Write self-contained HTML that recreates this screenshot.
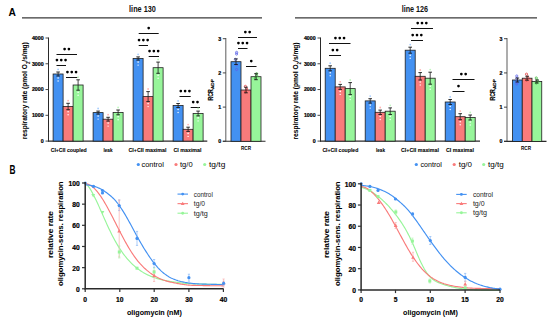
<!DOCTYPE html>
<html><head><meta charset="utf-8"><style>
html,body{margin:0;padding:0;background:#fff;}
svg{display:block;font-family:"Liberation Sans", sans-serif;}
</style></head><body>
<svg width="550" height="322" viewBox="0 0 550 322">
<rect width="550" height="322" fill="#fff"/>
<text x="12.20" y="15.50" font-size="11.8" font-weight="bold" text-anchor="middle" fill="#000"  textLength="7.4" lengthAdjust="spacingAndGlyphs"  >A</text>
<text x="142.50" y="11.60" font-size="8.4" font-weight="bold" text-anchor="middle" fill="#111"  textLength="26.8" lengthAdjust="spacingAndGlyphs"  >line 130</text>
<line x1="22.00" y1="17.90" x2="262.00" y2="17.90" stroke="#3a3a3a" stroke-width="1.4" />
<text x="414.90" y="11.60" font-size="8.4" font-weight="bold" text-anchor="middle" fill="#111"  textLength="26.4" lengthAdjust="spacingAndGlyphs"  >line 126</text>
<line x1="295.00" y1="17.90" x2="537.00" y2="17.90" stroke="#3a3a3a" stroke-width="1.4" />
<line x1="48.50" y1="37.50" x2="48.50" y2="141.60" stroke="#2a2a2a" stroke-width="1.0" />
<line x1="48.00" y1="141.10" x2="207.30" y2="141.10" stroke="#2a2a2a" stroke-width="1.1" />
<line x1="45.50" y1="141.10" x2="48.50" y2="141.10" stroke="#333" stroke-width="0.9" />
<text x="43.70" y="143.00" font-size="5.4" font-weight="bold" text-anchor="end" fill="#000" stroke="#000" stroke-width="0.2" textLength="2.95" lengthAdjust="spacingAndGlyphs"  >0</text>
<line x1="45.50" y1="115.32" x2="48.50" y2="115.32" stroke="#333" stroke-width="0.9" />
<text x="43.70" y="117.22" font-size="5.4" font-weight="bold" text-anchor="end" fill="#000" stroke="#000" stroke-width="0.2" textLength="11.8" lengthAdjust="spacingAndGlyphs"  >1000</text>
<line x1="45.50" y1="89.55" x2="48.50" y2="89.55" stroke="#333" stroke-width="0.9" />
<text x="43.70" y="91.45" font-size="5.4" font-weight="bold" text-anchor="end" fill="#000" stroke="#000" stroke-width="0.2" textLength="11.8" lengthAdjust="spacingAndGlyphs"  >2000</text>
<line x1="45.50" y1="63.77" x2="48.50" y2="63.77" stroke="#333" stroke-width="0.9" />
<text x="43.70" y="65.67" font-size="5.4" font-weight="bold" text-anchor="end" fill="#000" stroke="#000" stroke-width="0.2" textLength="11.8" lengthAdjust="spacingAndGlyphs"  >3000</text>
<line x1="45.50" y1="38.00" x2="48.50" y2="38.00" stroke="#333" stroke-width="0.9" />
<text x="43.70" y="39.90" font-size="5.4" font-weight="bold" text-anchor="end" fill="#000" stroke="#000" stroke-width="0.2" textLength="11.8" lengthAdjust="spacingAndGlyphs"  >4000</text>
<rect x="53.10" y="74.00" width="10.00" height="67.10" fill="#4391f2" stroke="#1e1e1e" stroke-width="0.8"/>
<rect x="63.10" y="106.50" width="10.00" height="34.60" fill="#f97b7b" stroke="#1e1e1e" stroke-width="0.8"/>
<rect x="73.10" y="85.00" width="10.00" height="56.10" fill="#97f59a" stroke="#1e1e1e" stroke-width="0.8"/>
<rect x="93.10" y="112.60" width="10.00" height="28.50" fill="#4391f2" stroke="#1e1e1e" stroke-width="0.8"/>
<rect x="103.10" y="119.20" width="10.00" height="21.90" fill="#f97b7b" stroke="#1e1e1e" stroke-width="0.8"/>
<rect x="113.10" y="112.40" width="10.00" height="28.70" fill="#97f59a" stroke="#1e1e1e" stroke-width="0.8"/>
<rect x="133.10" y="58.50" width="10.00" height="82.60" fill="#4391f2" stroke="#1e1e1e" stroke-width="0.8"/>
<rect x="143.10" y="96.60" width="10.00" height="44.50" fill="#f97b7b" stroke="#1e1e1e" stroke-width="0.8"/>
<rect x="153.10" y="67.70" width="10.00" height="73.40" fill="#97f59a" stroke="#1e1e1e" stroke-width="0.8"/>
<rect x="173.10" y="105.50" width="10.00" height="35.60" fill="#4391f2" stroke="#1e1e1e" stroke-width="0.8"/>
<rect x="183.10" y="129.30" width="10.00" height="11.80" fill="#f97b7b" stroke="#1e1e1e" stroke-width="0.8"/>
<rect x="193.10" y="113.50" width="10.00" height="27.60" fill="#97f59a" stroke="#1e1e1e" stroke-width="0.8"/>
<line x1="56.50" y1="54.50" x2="77.00" y2="54.50" stroke="#111" stroke-width="1.0" />
<circle cx="64.60" cy="49.10" r="1.35" fill="#000" />
<circle cx="68.90" cy="49.10" r="1.35" fill="#000" />
<line x1="56.50" y1="65.50" x2="66.00" y2="65.50" stroke="#111" stroke-width="1.0" />
<circle cx="56.95" cy="60.10" r="1.35" fill="#000" />
<circle cx="61.25" cy="60.10" r="1.35" fill="#000" />
<circle cx="65.55" cy="60.10" r="1.35" fill="#000" />
<line x1="66.00" y1="77.50" x2="77.50" y2="77.50" stroke="#111" stroke-width="1.0" />
<circle cx="67.45" cy="72.10" r="1.35" fill="#000" />
<circle cx="71.75" cy="72.10" r="1.35" fill="#000" />
<circle cx="76.05" cy="72.10" r="1.35" fill="#000" />
<line x1="138.70" y1="33.50" x2="158.70" y2="33.50" stroke="#111" stroke-width="1.0" />
<circle cx="148.70" cy="28.10" r="1.35" fill="#000" />
<line x1="138.70" y1="45.50" x2="148.00" y2="45.50" stroke="#111" stroke-width="1.0" />
<circle cx="139.05" cy="40.10" r="1.35" fill="#000" />
<circle cx="143.35" cy="40.10" r="1.35" fill="#000" />
<circle cx="147.65" cy="40.10" r="1.35" fill="#000" />
<line x1="148.70" y1="56.50" x2="159.00" y2="56.50" stroke="#111" stroke-width="1.0" />
<circle cx="149.55" cy="51.10" r="1.35" fill="#000" />
<circle cx="153.85" cy="51.10" r="1.35" fill="#000" />
<circle cx="158.15" cy="51.10" r="1.35" fill="#000" />
<line x1="179.50" y1="96.50" x2="190.70" y2="96.50" stroke="#111" stroke-width="1.0" />
<circle cx="180.80" cy="91.10" r="1.35" fill="#000" />
<circle cx="185.10" cy="91.10" r="1.35" fill="#000" />
<circle cx="189.40" cy="91.10" r="1.35" fill="#000" />
<line x1="190.70" y1="107.50" x2="200.00" y2="107.50" stroke="#111" stroke-width="1.0" />
<circle cx="193.20" cy="102.10" r="1.35" fill="#000" />
<circle cx="197.50" cy="102.10" r="1.35" fill="#000" />
<text x="68.70" y="152.30" font-size="5.6" font-weight="bold" text-anchor="middle" fill="#000" stroke="#000" stroke-width="0.08" textLength="36" lengthAdjust="spacingAndGlyphs"  >CI+CII coupled</text>
<text x="108.00" y="152.30" font-size="5.6" font-weight="bold" text-anchor="middle" fill="#000" stroke="#000" stroke-width="0.08" textLength="9" lengthAdjust="spacingAndGlyphs"  >leak</text>
<text x="147.50" y="152.30" font-size="5.6" font-weight="bold" text-anchor="middle" fill="#000" stroke="#000" stroke-width="0.08" textLength="38" lengthAdjust="spacingAndGlyphs"  >CI+CII maximal</text>
<text x="187.50" y="152.30" font-size="5.6" font-weight="bold" text-anchor="middle" fill="#000" stroke="#000" stroke-width="0.08" textLength="28" lengthAdjust="spacingAndGlyphs"  >CI maximal</text>
<line x1="320.50" y1="37.50" x2="320.50" y2="141.60" stroke="#2a2a2a" stroke-width="1.0" />
<line x1="320.00" y1="141.10" x2="480.00" y2="141.10" stroke="#2a2a2a" stroke-width="1.1" />
<line x1="317.50" y1="141.10" x2="320.50" y2="141.10" stroke="#333" stroke-width="0.9" />
<text x="315.70" y="143.00" font-size="5.4" font-weight="bold" text-anchor="end" fill="#000" stroke="#000" stroke-width="0.2" textLength="2.95" lengthAdjust="spacingAndGlyphs"  >0</text>
<line x1="317.50" y1="115.32" x2="320.50" y2="115.32" stroke="#333" stroke-width="0.9" />
<text x="315.70" y="117.22" font-size="5.4" font-weight="bold" text-anchor="end" fill="#000" stroke="#000" stroke-width="0.2" textLength="11.8" lengthAdjust="spacingAndGlyphs"  >1000</text>
<line x1="317.50" y1="89.55" x2="320.50" y2="89.55" stroke="#333" stroke-width="0.9" />
<text x="315.70" y="91.45" font-size="5.4" font-weight="bold" text-anchor="end" fill="#000" stroke="#000" stroke-width="0.2" textLength="11.8" lengthAdjust="spacingAndGlyphs"  >2000</text>
<line x1="317.50" y1="63.77" x2="320.50" y2="63.77" stroke="#333" stroke-width="0.9" />
<text x="315.70" y="65.67" font-size="5.4" font-weight="bold" text-anchor="end" fill="#000" stroke="#000" stroke-width="0.2" textLength="11.8" lengthAdjust="spacingAndGlyphs"  >3000</text>
<line x1="317.50" y1="38.00" x2="320.50" y2="38.00" stroke="#333" stroke-width="0.9" />
<text x="315.70" y="39.90" font-size="5.4" font-weight="bold" text-anchor="end" fill="#000" stroke="#000" stroke-width="0.2" textLength="11.8" lengthAdjust="spacingAndGlyphs"  >4000</text>
<rect x="325.20" y="68.30" width="10.00" height="72.80" fill="#4391f2" stroke="#1e1e1e" stroke-width="0.8"/>
<rect x="335.20" y="86.90" width="10.00" height="54.20" fill="#f97b7b" stroke="#1e1e1e" stroke-width="0.8"/>
<rect x="345.20" y="88.60" width="10.00" height="52.50" fill="#97f59a" stroke="#1e1e1e" stroke-width="0.8"/>
<rect x="365.20" y="100.90" width="10.00" height="40.20" fill="#4391f2" stroke="#1e1e1e" stroke-width="0.8"/>
<rect x="375.20" y="112.30" width="10.00" height="28.80" fill="#f97b7b" stroke="#1e1e1e" stroke-width="0.8"/>
<rect x="385.20" y="111.20" width="10.00" height="29.90" fill="#97f59a" stroke="#1e1e1e" stroke-width="0.8"/>
<rect x="405.20" y="50.20" width="10.00" height="90.90" fill="#4391f2" stroke="#1e1e1e" stroke-width="0.8"/>
<rect x="415.20" y="76.30" width="10.00" height="64.80" fill="#f97b7b" stroke="#1e1e1e" stroke-width="0.8"/>
<rect x="425.20" y="78.20" width="10.00" height="62.90" fill="#97f59a" stroke="#1e1e1e" stroke-width="0.8"/>
<rect x="445.20" y="102.00" width="10.00" height="39.10" fill="#4391f2" stroke="#1e1e1e" stroke-width="0.8"/>
<rect x="455.20" y="116.70" width="10.00" height="24.40" fill="#f97b7b" stroke="#1e1e1e" stroke-width="0.8"/>
<rect x="465.20" y="117.50" width="10.00" height="23.60" fill="#97f59a" stroke="#1e1e1e" stroke-width="0.8"/>
<line x1="329.00" y1="43.50" x2="350.50" y2="43.50" stroke="#111" stroke-width="1.0" />
<circle cx="335.45" cy="38.10" r="1.35" fill="#000" />
<circle cx="339.75" cy="38.10" r="1.35" fill="#000" />
<circle cx="344.05" cy="38.10" r="1.35" fill="#000" />
<line x1="329.00" y1="55.50" x2="341.00" y2="55.50" stroke="#111" stroke-width="1.0" />
<circle cx="332.85" cy="50.10" r="1.35" fill="#000" />
<circle cx="337.15" cy="50.10" r="1.35" fill="#000" />
<line x1="411.00" y1="28.50" x2="433.00" y2="28.50" stroke="#111" stroke-width="1.0" />
<circle cx="417.70" cy="23.10" r="1.35" fill="#000" />
<circle cx="422.00" cy="23.10" r="1.35" fill="#000" />
<circle cx="426.30" cy="23.10" r="1.35" fill="#000" />
<line x1="411.00" y1="40.50" x2="423.00" y2="40.50" stroke="#111" stroke-width="1.0" />
<circle cx="412.70" cy="35.10" r="1.35" fill="#000" />
<circle cx="417.00" cy="35.10" r="1.35" fill="#000" />
<circle cx="421.30" cy="35.10" r="1.35" fill="#000" />
<line x1="452.50" y1="79.50" x2="474.50" y2="79.50" stroke="#111" stroke-width="1.0" />
<circle cx="461.35" cy="74.10" r="1.35" fill="#000" />
<circle cx="465.65" cy="74.10" r="1.35" fill="#000" />
<line x1="452.50" y1="91.50" x2="464.50" y2="91.50" stroke="#111" stroke-width="1.0" />
<circle cx="458.50" cy="86.10" r="1.35" fill="#000" />
<text x="340.40" y="152.30" font-size="5.6" font-weight="bold" text-anchor="middle" fill="#000" stroke="#000" stroke-width="0.08" textLength="36" lengthAdjust="spacingAndGlyphs"  >CI+CII coupled</text>
<text x="380.50" y="152.30" font-size="5.6" font-weight="bold" text-anchor="middle" fill="#000" stroke="#000" stroke-width="0.08" textLength="9" lengthAdjust="spacingAndGlyphs"  >leak</text>
<text x="420.00" y="152.30" font-size="5.6" font-weight="bold" text-anchor="middle" fill="#000" stroke="#000" stroke-width="0.08" textLength="38" lengthAdjust="spacingAndGlyphs"  >CI+CII maximal</text>
<text x="460.00" y="152.30" font-size="5.6" font-weight="bold" text-anchor="middle" fill="#000" stroke="#000" stroke-width="0.08" textLength="28" lengthAdjust="spacingAndGlyphs"  >CI maximal</text>
<circle cx="58.10" cy="69.40" r="0.9" fill="#a6cdfd" />
<circle cx="58.10" cy="78.00" r="0.8" fill="#ffffff" />
<circle cx="58.10" cy="81.00" r="0.7" fill="#ffffff" />
<line x1="58.10" y1="72.00" x2="58.10" y2="76.00" stroke="#1a1a1a" stroke-width="0.8" />
<line x1="56.30" y1="72.00" x2="59.90" y2="72.00" stroke="#1a1a1a" stroke-width="0.9" />
<line x1="56.30" y1="76.00" x2="59.90" y2="76.00" stroke="#1a1a1a" stroke-width="0.9" />
<circle cx="68.10" cy="100.70" r="0.9" fill="#ffb3b3" />
<circle cx="68.10" cy="111.70" r="0.8" fill="#ffffff" />
<circle cx="68.10" cy="114.70" r="0.7" fill="#ffffff" />
<line x1="68.10" y1="103.30" x2="68.10" y2="109.70" stroke="#1a1a1a" stroke-width="0.8" />
<line x1="66.30" y1="103.30" x2="69.90" y2="103.30" stroke="#1a1a1a" stroke-width="0.9" />
<line x1="66.30" y1="109.70" x2="69.90" y2="109.70" stroke="#1a1a1a" stroke-width="0.9" />
<circle cx="78.10" cy="77.20" r="0.9" fill="#bdf7bd" />
<circle cx="78.10" cy="92.20" r="0.8" fill="#ffffff" />
<circle cx="78.10" cy="95.20" r="0.7" fill="#ffffff" />
<line x1="78.10" y1="79.80" x2="78.10" y2="90.20" stroke="#1a1a1a" stroke-width="0.8" />
<line x1="76.30" y1="79.80" x2="79.90" y2="79.80" stroke="#1a1a1a" stroke-width="0.9" />
<line x1="76.30" y1="90.20" x2="79.90" y2="90.20" stroke="#1a1a1a" stroke-width="0.9" />
<circle cx="98.10" cy="108.50" r="0.9" fill="#a6cdfd" />
<circle cx="98.10" cy="116.10" r="0.8" fill="#ffffff" />
<circle cx="98.10" cy="119.10" r="0.7" fill="#ffffff" />
<line x1="98.10" y1="111.10" x2="98.10" y2="114.10" stroke="#1a1a1a" stroke-width="0.8" />
<line x1="96.30" y1="111.10" x2="99.90" y2="111.10" stroke="#1a1a1a" stroke-width="0.9" />
<line x1="96.30" y1="114.10" x2="99.90" y2="114.10" stroke="#1a1a1a" stroke-width="0.9" />
<circle cx="108.10" cy="114.70" r="0.9" fill="#ffb3b3" />
<circle cx="108.10" cy="123.10" r="0.8" fill="#ffffff" />
<circle cx="108.10" cy="126.10" r="0.7" fill="#ffffff" />
<line x1="108.10" y1="117.30" x2="108.10" y2="121.10" stroke="#1a1a1a" stroke-width="0.8" />
<line x1="106.30" y1="117.30" x2="109.90" y2="117.30" stroke="#1a1a1a" stroke-width="0.9" />
<line x1="106.30" y1="121.10" x2="109.90" y2="121.10" stroke="#1a1a1a" stroke-width="0.9" />
<circle cx="118.10" cy="107.40" r="0.9" fill="#bdf7bd" />
<circle cx="118.10" cy="116.80" r="0.8" fill="#ffffff" />
<circle cx="118.10" cy="119.80" r="0.7" fill="#ffffff" />
<line x1="118.10" y1="110.00" x2="118.10" y2="114.80" stroke="#1a1a1a" stroke-width="0.8" />
<line x1="116.30" y1="110.00" x2="119.90" y2="110.00" stroke="#1a1a1a" stroke-width="0.9" />
<line x1="116.30" y1="114.80" x2="119.90" y2="114.80" stroke="#1a1a1a" stroke-width="0.9" />
<circle cx="138.10" cy="54.30" r="0.9" fill="#a6cdfd" />
<circle cx="138.10" cy="62.10" r="0.8" fill="#ffffff" />
<circle cx="138.10" cy="65.10" r="0.7" fill="#ffffff" />
<line x1="138.10" y1="56.90" x2="138.10" y2="60.10" stroke="#1a1a1a" stroke-width="0.8" />
<line x1="136.30" y1="56.90" x2="139.90" y2="56.90" stroke="#1a1a1a" stroke-width="0.9" />
<line x1="136.30" y1="60.10" x2="139.90" y2="60.10" stroke="#1a1a1a" stroke-width="0.9" />
<circle cx="148.10" cy="89.00" r="0.9" fill="#ffb3b3" />
<circle cx="148.10" cy="103.60" r="0.8" fill="#ffffff" />
<circle cx="148.10" cy="106.60" r="0.7" fill="#ffffff" />
<line x1="148.10" y1="91.60" x2="148.10" y2="101.60" stroke="#1a1a1a" stroke-width="0.8" />
<line x1="146.30" y1="91.60" x2="149.90" y2="91.60" stroke="#1a1a1a" stroke-width="0.9" />
<line x1="146.30" y1="101.60" x2="149.90" y2="101.60" stroke="#1a1a1a" stroke-width="0.9" />
<circle cx="158.10" cy="59.50" r="0.9" fill="#bdf7bd" />
<circle cx="158.10" cy="75.30" r="0.8" fill="#ffffff" />
<circle cx="158.10" cy="78.30" r="0.7" fill="#ffffff" />
<line x1="158.10" y1="62.10" x2="158.10" y2="73.30" stroke="#1a1a1a" stroke-width="0.8" />
<line x1="156.30" y1="62.10" x2="159.90" y2="62.10" stroke="#1a1a1a" stroke-width="0.9" />
<line x1="156.30" y1="73.30" x2="159.90" y2="73.30" stroke="#1a1a1a" stroke-width="0.9" />
<circle cx="178.10" cy="100.90" r="0.9" fill="#a6cdfd" />
<circle cx="178.10" cy="109.50" r="0.8" fill="#ffffff" />
<circle cx="178.10" cy="112.50" r="0.7" fill="#ffffff" />
<line x1="178.10" y1="103.50" x2="178.10" y2="107.50" stroke="#1a1a1a" stroke-width="0.8" />
<line x1="176.30" y1="103.50" x2="179.90" y2="103.50" stroke="#1a1a1a" stroke-width="0.9" />
<line x1="176.30" y1="107.50" x2="179.90" y2="107.50" stroke="#1a1a1a" stroke-width="0.9" />
<circle cx="188.10" cy="124.60" r="0.9" fill="#ffb3b3" />
<circle cx="188.10" cy="133.40" r="0.8" fill="#ffffff" />
<circle cx="188.10" cy="136.40" r="0.7" fill="#ffffff" />
<line x1="188.10" y1="127.20" x2="188.10" y2="131.40" stroke="#1a1a1a" stroke-width="0.8" />
<line x1="186.30" y1="127.20" x2="189.90" y2="127.20" stroke="#1a1a1a" stroke-width="0.9" />
<line x1="186.30" y1="131.40" x2="189.90" y2="131.40" stroke="#1a1a1a" stroke-width="0.9" />
<circle cx="198.10" cy="108.50" r="0.9" fill="#bdf7bd" />
<circle cx="198.10" cy="117.90" r="0.8" fill="#ffffff" />
<circle cx="198.10" cy="120.90" r="0.7" fill="#ffffff" />
<line x1="198.10" y1="111.10" x2="198.10" y2="115.90" stroke="#1a1a1a" stroke-width="0.8" />
<line x1="196.30" y1="111.10" x2="199.90" y2="111.10" stroke="#1a1a1a" stroke-width="0.9" />
<line x1="196.30" y1="115.90" x2="199.90" y2="115.90" stroke="#1a1a1a" stroke-width="0.9" />
<circle cx="330.20" cy="63.20" r="0.9" fill="#a6cdfd" />
<circle cx="330.20" cy="72.80" r="0.8" fill="#ffffff" />
<circle cx="330.20" cy="75.80" r="0.7" fill="#ffffff" />
<line x1="330.20" y1="65.80" x2="330.20" y2="70.80" stroke="#1a1a1a" stroke-width="0.8" />
<line x1="328.40" y1="65.80" x2="332.00" y2="65.80" stroke="#1a1a1a" stroke-width="0.9" />
<line x1="328.40" y1="70.80" x2="332.00" y2="70.80" stroke="#1a1a1a" stroke-width="0.9" />
<circle cx="340.20" cy="81.80" r="0.9" fill="#ffb3b3" />
<circle cx="340.20" cy="91.40" r="0.8" fill="#ffffff" />
<circle cx="340.20" cy="94.40" r="0.7" fill="#ffffff" />
<line x1="340.20" y1="84.40" x2="340.20" y2="89.40" stroke="#1a1a1a" stroke-width="0.8" />
<line x1="338.40" y1="84.40" x2="342.00" y2="84.40" stroke="#1a1a1a" stroke-width="0.9" />
<line x1="338.40" y1="89.40" x2="342.00" y2="89.40" stroke="#1a1a1a" stroke-width="0.9" />
<circle cx="350.20" cy="80.00" r="0.9" fill="#bdf7bd" />
<circle cx="350.20" cy="96.60" r="0.8" fill="#ffffff" />
<circle cx="350.20" cy="99.60" r="0.7" fill="#ffffff" />
<line x1="350.20" y1="82.60" x2="350.20" y2="94.60" stroke="#1a1a1a" stroke-width="0.8" />
<line x1="348.40" y1="82.60" x2="352.00" y2="82.60" stroke="#1a1a1a" stroke-width="0.9" />
<line x1="348.40" y1="94.60" x2="352.00" y2="94.60" stroke="#1a1a1a" stroke-width="0.9" />
<circle cx="370.20" cy="96.10" r="0.9" fill="#a6cdfd" />
<circle cx="370.20" cy="105.10" r="0.8" fill="#ffffff" />
<circle cx="370.20" cy="108.10" r="0.7" fill="#ffffff" />
<line x1="370.20" y1="98.70" x2="370.20" y2="103.10" stroke="#1a1a1a" stroke-width="0.8" />
<line x1="368.40" y1="98.70" x2="372.00" y2="98.70" stroke="#1a1a1a" stroke-width="0.9" />
<line x1="368.40" y1="103.10" x2="372.00" y2="103.10" stroke="#1a1a1a" stroke-width="0.9" />
<circle cx="380.20" cy="107.50" r="0.9" fill="#ffb3b3" />
<circle cx="380.20" cy="116.50" r="0.8" fill="#ffffff" />
<circle cx="380.20" cy="119.50" r="0.7" fill="#ffffff" />
<line x1="380.20" y1="110.10" x2="380.20" y2="114.50" stroke="#1a1a1a" stroke-width="0.8" />
<line x1="378.40" y1="110.10" x2="382.00" y2="110.10" stroke="#1a1a1a" stroke-width="0.9" />
<line x1="378.40" y1="114.50" x2="382.00" y2="114.50" stroke="#1a1a1a" stroke-width="0.9" />
<circle cx="390.20" cy="105.30" r="0.9" fill="#bdf7bd" />
<circle cx="390.20" cy="116.50" r="0.8" fill="#ffffff" />
<circle cx="390.20" cy="119.50" r="0.7" fill="#ffffff" />
<line x1="390.20" y1="107.90" x2="390.20" y2="114.50" stroke="#1a1a1a" stroke-width="0.8" />
<line x1="388.40" y1="107.90" x2="392.00" y2="107.90" stroke="#1a1a1a" stroke-width="0.9" />
<line x1="388.40" y1="114.50" x2="392.00" y2="114.50" stroke="#1a1a1a" stroke-width="0.9" />
<circle cx="410.20" cy="44.60" r="0.9" fill="#a6cdfd" />
<circle cx="410.20" cy="55.20" r="0.8" fill="#ffffff" />
<circle cx="410.20" cy="58.20" r="0.7" fill="#ffffff" />
<line x1="410.20" y1="47.20" x2="410.20" y2="53.20" stroke="#1a1a1a" stroke-width="0.8" />
<line x1="408.40" y1="47.20" x2="412.00" y2="47.20" stroke="#1a1a1a" stroke-width="0.9" />
<line x1="408.40" y1="53.20" x2="412.00" y2="53.20" stroke="#1a1a1a" stroke-width="0.9" />
<circle cx="420.20" cy="70.00" r="0.9" fill="#ffb3b3" />
<circle cx="420.20" cy="82.00" r="0.8" fill="#ffffff" />
<circle cx="420.20" cy="85.00" r="0.7" fill="#ffffff" />
<line x1="420.20" y1="72.60" x2="420.20" y2="80.00" stroke="#1a1a1a" stroke-width="0.8" />
<line x1="418.40" y1="72.60" x2="422.00" y2="72.60" stroke="#1a1a1a" stroke-width="0.9" />
<line x1="418.40" y1="80.00" x2="422.00" y2="80.00" stroke="#1a1a1a" stroke-width="0.9" />
<circle cx="430.20" cy="69.60" r="0.9" fill="#bdf7bd" />
<circle cx="430.20" cy="86.20" r="0.8" fill="#ffffff" />
<circle cx="430.20" cy="89.20" r="0.7" fill="#ffffff" />
<line x1="430.20" y1="72.20" x2="430.20" y2="84.20" stroke="#1a1a1a" stroke-width="0.8" />
<line x1="428.40" y1="72.20" x2="432.00" y2="72.20" stroke="#1a1a1a" stroke-width="0.9" />
<line x1="428.40" y1="84.20" x2="432.00" y2="84.20" stroke="#1a1a1a" stroke-width="0.9" />
<circle cx="450.20" cy="96.90" r="0.9" fill="#a6cdfd" />
<circle cx="450.20" cy="106.50" r="0.8" fill="#ffffff" />
<circle cx="450.20" cy="109.50" r="0.7" fill="#ffffff" />
<line x1="450.20" y1="99.50" x2="450.20" y2="104.50" stroke="#1a1a1a" stroke-width="0.8" />
<line x1="448.40" y1="99.50" x2="452.00" y2="99.50" stroke="#1a1a1a" stroke-width="0.9" />
<line x1="448.40" y1="104.50" x2="452.00" y2="104.50" stroke="#1a1a1a" stroke-width="0.9" />
<circle cx="460.20" cy="111.10" r="0.9" fill="#ffb3b3" />
<circle cx="460.20" cy="121.70" r="0.8" fill="#ffffff" />
<circle cx="460.20" cy="124.70" r="0.7" fill="#ffffff" />
<line x1="460.20" y1="113.70" x2="460.20" y2="119.70" stroke="#1a1a1a" stroke-width="0.8" />
<line x1="458.40" y1="113.70" x2="462.00" y2="113.70" stroke="#1a1a1a" stroke-width="0.9" />
<line x1="458.40" y1="119.70" x2="462.00" y2="119.70" stroke="#1a1a1a" stroke-width="0.9" />
<circle cx="470.20" cy="112.40" r="0.9" fill="#bdf7bd" />
<circle cx="470.20" cy="122.00" r="0.8" fill="#ffffff" />
<circle cx="470.20" cy="125.00" r="0.7" fill="#ffffff" />
<line x1="470.20" y1="115.00" x2="470.20" y2="120.00" stroke="#1a1a1a" stroke-width="0.8" />
<line x1="468.40" y1="115.00" x2="472.00" y2="115.00" stroke="#1a1a1a" stroke-width="0.9" />
<line x1="468.40" y1="120.00" x2="472.00" y2="120.00" stroke="#1a1a1a" stroke-width="0.9" />
<text x="26.60" y="90.70" font-size="6.8" font-weight="bold" text-anchor="middle" fill="#000" stroke="#000" stroke-width="0.05" textLength="97" lengthAdjust="spacingAndGlyphs" transform="rotate(-90 26.60 90.70)" >respiratory rate (pmol O<tspan baseline-shift="sub" font-size="4.6">2</tspan>/s/mg)</text>
<text x="297.60" y="91.00" font-size="6.8" font-weight="bold" text-anchor="middle" fill="#000" stroke="#000" stroke-width="0.05" textLength="97" lengthAdjust="spacingAndGlyphs" transform="rotate(-90 297.60 91.00)" >respiratory rate (pmol O<tspan baseline-shift="sub" font-size="4.6">2</tspan>/s/mg)</text>
<line x1="225.80" y1="38.00" x2="225.80" y2="141.30" stroke="#6a6a6a" stroke-width="1.1" />
<line x1="222.80" y1="141.30" x2="265.50" y2="141.30" stroke="#2a2a2a" stroke-width="1.1" />
<line x1="222.80" y1="141.30" x2="225.80" y2="141.30" stroke="#333" stroke-width="0.9" />
<text x="221.20" y="143.20" font-size="5.4" font-weight="bold" text-anchor="end" fill="#000" stroke="#000" stroke-width="0.2" textLength="2.95" lengthAdjust="spacingAndGlyphs"  >0</text>
<line x1="222.80" y1="107.10" x2="225.80" y2="107.10" stroke="#333" stroke-width="0.9" />
<text x="221.20" y="109.00" font-size="5.4" font-weight="bold" text-anchor="end" fill="#000" stroke="#000" stroke-width="0.2" textLength="2.95" lengthAdjust="spacingAndGlyphs"  >1</text>
<line x1="222.80" y1="72.90" x2="225.80" y2="72.90" stroke="#333" stroke-width="0.9" />
<text x="221.20" y="74.80" font-size="5.4" font-weight="bold" text-anchor="end" fill="#000" stroke="#000" stroke-width="0.2" textLength="2.95" lengthAdjust="spacingAndGlyphs"  >2</text>
<line x1="222.80" y1="38.70" x2="225.80" y2="38.70" stroke="#333" stroke-width="0.9" />
<text x="221.20" y="40.60" font-size="5.4" font-weight="bold" text-anchor="end" fill="#000" stroke="#000" stroke-width="0.2" textLength="2.95" lengthAdjust="spacingAndGlyphs"  >3</text>
<rect x="231.00" y="61.70" width="10.00" height="79.60" fill="#4391f2" stroke="#1e1e1e" stroke-width="0.8"/>
<circle cx="236.60" cy="52.40" r="1.1" fill="none" stroke="#5b62e8" stroke-width="0.8"/>
<circle cx="236.60" cy="54.00" r="1.1" fill="none" stroke="#5b62e8" stroke-width="0.8"/>
<circle cx="235.40" cy="59.40" r="1.1" fill="none" stroke="#5b62e8" stroke-width="0.8"/>
<circle cx="236.60" cy="64.90" r="1.1" fill="none" stroke="#5b62e8" stroke-width="0.8"/>
<circle cx="236.60" cy="69.50" r="1.1" fill="none" stroke="#5b62e8" stroke-width="0.8"/>
<line x1="236.00" y1="58.90" x2="236.00" y2="64.50" stroke="#1a1a1a" stroke-width="0.8" />
<line x1="234.20" y1="58.90" x2="237.80" y2="58.90" stroke="#1a1a1a" stroke-width="0.9" />
<line x1="234.20" y1="64.50" x2="237.80" y2="64.50" stroke="#1a1a1a" stroke-width="0.9" />
<rect x="241.00" y="90.00" width="10.00" height="51.30" fill="#f97b7b" stroke="#1e1e1e" stroke-width="0.8"/>
<circle cx="245.40" cy="86.40" r="1.1" fill="none" stroke="#e23a3a" stroke-width="0.8"/>
<circle cx="246.60" cy="89.00" r="1.1" fill="none" stroke="#e23a3a" stroke-width="0.8"/>
<circle cx="245.40" cy="92.00" r="1.1" fill="none" stroke="#e23a3a" stroke-width="0.8"/>
<line x1="246.00" y1="87.20" x2="246.00" y2="92.80" stroke="#1a1a1a" stroke-width="0.8" />
<line x1="244.20" y1="87.20" x2="247.80" y2="87.20" stroke="#1a1a1a" stroke-width="0.9" />
<line x1="244.20" y1="92.80" x2="247.80" y2="92.80" stroke="#1a1a1a" stroke-width="0.9" />
<rect x="251.00" y="76.70" width="10.00" height="64.60" fill="#97f59a" stroke="#1e1e1e" stroke-width="0.8"/>
<circle cx="256.60" cy="73.70" r="1.1" fill="none" stroke="#3cb83c" stroke-width="0.8"/>
<circle cx="256.60" cy="75.70" r="1.1" fill="none" stroke="#3cb83c" stroke-width="0.8"/>
<circle cx="255.40" cy="78.20" r="1.1" fill="none" stroke="#3cb83c" stroke-width="0.8"/>
<line x1="256.00" y1="73.70" x2="256.00" y2="79.70" stroke="#1a1a1a" stroke-width="0.8" />
<line x1="254.20" y1="73.70" x2="257.80" y2="73.70" stroke="#1a1a1a" stroke-width="0.9" />
<line x1="254.20" y1="79.70" x2="257.80" y2="79.70" stroke="#1a1a1a" stroke-width="0.9" />
<line x1="238.00" y1="37.50" x2="257.00" y2="37.50" stroke="#111" stroke-width="1.0" />
<circle cx="245.35" cy="32.10" r="1.35" fill="#000" />
<circle cx="249.65" cy="32.10" r="1.35" fill="#000" />
<line x1="238.00" y1="48.50" x2="247.50" y2="48.50" stroke="#111" stroke-width="1.0" />
<circle cx="238.45" cy="43.10" r="1.35" fill="#000" />
<circle cx="242.75" cy="43.10" r="1.35" fill="#000" />
<circle cx="247.05" cy="43.10" r="1.35" fill="#000" />
<line x1="246.00" y1="66.50" x2="256.50" y2="66.50" stroke="#111" stroke-width="1.0" />
<circle cx="251.25" cy="61.10" r="1.35" fill="#000" />
<text x="213.30" y="100.60" font-size="6.3" font-weight="bold" text-anchor="start" fill="#000" stroke="#000" stroke-width="0.2" textLength="11.4" lengthAdjust="spacingAndGlyphs" transform="rotate(-90 213.30 100.60)" >RCR</text>
<text x="214.30" y="89.00" font-size="4.4" font-weight="bold" text-anchor="start" fill="#000" stroke="#000" stroke-width="0.15" textLength="9.8" lengthAdjust="spacingAndGlyphs" transform="rotate(-90 214.30 89.00)" >ADP</text>
<text x="246.00" y="150.30" font-size="5.3" font-weight="bold" text-anchor="middle" fill="#000"  textLength="10" lengthAdjust="spacingAndGlyphs"  >RCR</text>
<line x1="507.00" y1="38.00" x2="507.00" y2="141.40" stroke="#6a6a6a" stroke-width="1.1" />
<line x1="504.00" y1="141.40" x2="546.50" y2="141.40" stroke="#2a2a2a" stroke-width="1.1" />
<line x1="504.00" y1="141.40" x2="507.00" y2="141.40" stroke="#333" stroke-width="0.9" />
<text x="502.40" y="143.30" font-size="5.4" font-weight="bold" text-anchor="end" fill="#000" stroke="#000" stroke-width="0.2" textLength="2.95" lengthAdjust="spacingAndGlyphs"  >0</text>
<line x1="504.00" y1="107.17" x2="507.00" y2="107.17" stroke="#333" stroke-width="0.9" />
<text x="502.40" y="109.07" font-size="5.4" font-weight="bold" text-anchor="end" fill="#000" stroke="#000" stroke-width="0.2" textLength="2.95" lengthAdjust="spacingAndGlyphs"  >1</text>
<line x1="504.00" y1="72.93" x2="507.00" y2="72.93" stroke="#333" stroke-width="0.9" />
<text x="502.40" y="74.83" font-size="5.4" font-weight="bold" text-anchor="end" fill="#000" stroke="#000" stroke-width="0.2" textLength="2.95" lengthAdjust="spacingAndGlyphs"  >2</text>
<line x1="504.00" y1="38.70" x2="507.00" y2="38.70" stroke="#333" stroke-width="0.9" />
<text x="502.40" y="40.60" font-size="5.4" font-weight="bold" text-anchor="end" fill="#000" stroke="#000" stroke-width="0.2" textLength="2.95" lengthAdjust="spacingAndGlyphs"  >3</text>
<rect x="512.50" y="80.00" width="9.75" height="61.40" fill="#4391f2" stroke="#1e1e1e" stroke-width="0.8"/>
<circle cx="516.77" cy="76.00" r="1.1" fill="none" stroke="#5b62e8" stroke-width="0.8"/>
<circle cx="516.77" cy="78.50" r="1.1" fill="none" stroke="#5b62e8" stroke-width="0.8"/>
<circle cx="516.77" cy="82.00" r="1.1" fill="none" stroke="#5b62e8" stroke-width="0.8"/>
<circle cx="516.77" cy="84.00" r="1.1" fill="none" stroke="#5b62e8" stroke-width="0.8"/>
<line x1="517.38" y1="78.00" x2="517.38" y2="82.00" stroke="#1a1a1a" stroke-width="0.8" />
<line x1="515.58" y1="78.00" x2="519.17" y2="78.00" stroke="#1a1a1a" stroke-width="0.9" />
<line x1="515.58" y1="82.00" x2="519.17" y2="82.00" stroke="#1a1a1a" stroke-width="0.9" />
<rect x="522.25" y="78.20" width="9.75" height="63.20" fill="#f97b7b" stroke="#1e1e1e" stroke-width="0.8"/>
<circle cx="526.52" cy="74.20" r="1.1" fill="none" stroke="#e23a3a" stroke-width="0.8"/>
<circle cx="527.73" cy="77.20" r="1.1" fill="none" stroke="#e23a3a" stroke-width="0.8"/>
<circle cx="526.52" cy="80.20" r="1.1" fill="none" stroke="#e23a3a" stroke-width="0.8"/>
<line x1="527.12" y1="76.20" x2="527.12" y2="80.20" stroke="#1a1a1a" stroke-width="0.8" />
<line x1="525.33" y1="76.20" x2="528.92" y2="76.20" stroke="#1a1a1a" stroke-width="0.9" />
<line x1="525.33" y1="80.20" x2="528.92" y2="80.20" stroke="#1a1a1a" stroke-width="0.9" />
<rect x="532.00" y="81.50" width="9.75" height="59.90" fill="#97f59a" stroke="#1e1e1e" stroke-width="0.8"/>
<circle cx="536.27" cy="78.00" r="1.1" fill="none" stroke="#3cb83c" stroke-width="0.8"/>
<circle cx="537.48" cy="80.50" r="1.1" fill="none" stroke="#3cb83c" stroke-width="0.8"/>
<circle cx="536.27" cy="83.00" r="1.1" fill="none" stroke="#3cb83c" stroke-width="0.8"/>
<line x1="536.88" y1="80.00" x2="536.88" y2="83.00" stroke="#1a1a1a" stroke-width="0.8" />
<line x1="535.08" y1="80.00" x2="538.67" y2="80.00" stroke="#1a1a1a" stroke-width="0.9" />
<line x1="535.08" y1="83.00" x2="538.67" y2="83.00" stroke="#1a1a1a" stroke-width="0.9" />
<text x="494.80" y="100.60" font-size="6.3" font-weight="bold" text-anchor="start" fill="#000" stroke="#000" stroke-width="0.2" textLength="11.4" lengthAdjust="spacingAndGlyphs" transform="rotate(-90 494.80 100.60)" >RCR</text>
<text x="495.80" y="89.00" font-size="4.4" font-weight="bold" text-anchor="start" fill="#000" stroke="#000" stroke-width="0.15" textLength="9.8" lengthAdjust="spacingAndGlyphs" transform="rotate(-90 495.80 89.00)" >ADP</text>
<text x="526.00" y="150.30" font-size="5.3" font-weight="bold" text-anchor="middle" fill="#000"  textLength="10" lengthAdjust="spacingAndGlyphs"  >RCR</text>
<circle cx="138.30" cy="164.50" r="1.6" fill="#4391f2" />
<text x="141.50" y="166.80" font-size="7.0" font-weight="normal" text-anchor="start" fill="#000"  textLength="22.3" lengthAdjust="spacingAndGlyphs"  >control</text>
<circle cx="176.00" cy="164.50" r="1.6" fill="#f97b7b" />
<text x="180.00" y="166.80" font-size="7.0" font-weight="normal" text-anchor="start" fill="#000"  textLength="12.6" lengthAdjust="spacingAndGlyphs"  >tg/0</text>
<circle cx="204.70" cy="164.50" r="1.6" fill="#97f59a" />
<text x="209.00" y="166.80" font-size="7.0" font-weight="normal" text-anchor="start" fill="#000"  textLength="16.3" lengthAdjust="spacingAndGlyphs"  >tg/tg</text>
<circle cx="416.30" cy="164.50" r="1.6" fill="#4391f2" />
<text x="420.50" y="166.80" font-size="7.0" font-weight="normal" text-anchor="start" fill="#000"  textLength="21.3" lengthAdjust="spacingAndGlyphs"  >control</text>
<circle cx="454.20" cy="164.50" r="1.6" fill="#f97b7b" />
<text x="458.70" y="166.80" font-size="7.0" font-weight="normal" text-anchor="start" fill="#000"  textLength="13.3" lengthAdjust="spacingAndGlyphs"  >tg/0</text>
<circle cx="483.70" cy="164.50" r="1.6" fill="#97f59a" />
<text x="488.00" y="166.80" font-size="7.0" font-weight="normal" text-anchor="start" fill="#000"  textLength="15.7" lengthAdjust="spacingAndGlyphs"  >tg/tg</text>
<text x="12.60" y="174.40" font-size="12.4" font-weight="bold" text-anchor="middle" fill="#000"  textLength="6.0" lengthAdjust="spacingAndGlyphs"  >B</text>
<polyline points="85.00,183.50 85.93,183.88 86.86,184.63 87.79,185.62 88.72,186.80 89.65,188.14 90.58,189.62 91.51,191.21 92.44,192.89 93.37,194.66 94.30,196.50 95.23,198.39 96.16,200.34 97.09,202.32 98.02,204.34 98.95,206.38 99.88,208.45 100.81,210.54 101.74,212.64 102.67,214.75 103.60,216.86 104.53,218.96 105.46,221.05 106.39,223.12 107.32,225.17 108.26,227.19 109.19,229.17 110.12,231.12 111.05,233.03 111.98,234.90 112.91,236.72 113.84,238.49 114.77,240.22 115.70,241.90 116.63,243.53 117.56,245.11 118.49,246.64 119.42,248.13 120.35,249.56 121.28,250.94 122.21,252.28 123.14,253.57 124.07,254.81 125.00,256.01 125.93,257.17 126.86,258.28 127.79,259.36 128.72,260.40 129.65,261.40 130.58,262.37 131.51,263.30 132.44,264.21 133.37,265.07 134.30,265.91 135.23,266.72 136.16,267.49 137.09,268.24 138.02,268.96 138.95,269.65 139.88,270.31 140.81,270.94 141.74,271.55 142.67,272.13 143.60,272.69 144.53,273.22 145.46,273.73 146.39,274.22 147.32,274.69 148.25,275.14 149.18,275.56 150.11,275.97 151.04,276.36 151.97,276.73 152.90,277.09 153.83,277.42 154.77,277.75 155.70,278.06 156.63,278.35 157.56,278.63 158.49,278.90 159.42,279.16 160.35,279.40 161.28,279.64 162.21,279.86 163.14,280.07 164.07,280.27 165.00,280.47 165.93,280.65 166.86,280.83 167.79,281.00 168.72,281.16 169.65,281.31 170.58,281.46 171.51,281.60 172.44,281.74 173.37,281.87 174.30,282.00 175.23,282.13 176.16,282.25 177.09,282.38 178.02,282.50 178.95,282.62 179.88,282.74 180.81,282.85 181.74,282.96 182.67,283.06 183.60,283.16 184.53,283.25 185.46,283.34 186.39,283.42 187.32,283.49 188.25,283.56 189.18,283.62 190.11,283.68 191.04,283.73 191.97,283.77 192.90,283.81 193.83,283.85 194.76,283.88 195.69,283.91 196.62,283.93 197.55,283.96 198.48,283.98 199.41,284.00 200.34,284.03 201.28,284.05 202.21,284.07 203.14,284.10 204.07,284.12 205.00,284.14 205.93,284.16 206.86,284.19 207.79,284.21 208.72,284.23 209.65,284.25 210.58,284.27 211.51,284.28 212.44,284.30 213.37,284.32 214.30,284.33 215.23,284.35 216.16,284.36 217.09,284.37 218.02,284.38 218.95,284.39 219.88,284.40 220.81,284.41 221.74,284.43 222.67,284.44 223.60,284.45" fill="none" stroke="#97f59a" stroke-width="1.15"/>
<polyline points="85.00,183.67 85.93,183.74 86.86,183.91 87.79,184.16 88.72,184.51 89.65,184.94 90.58,185.47 91.51,186.08 92.44,186.78 93.37,187.57 94.30,188.43 95.23,189.37 96.16,190.38 97.09,191.46 98.02,192.61 98.95,193.83 99.88,195.11 100.81,196.44 101.74,197.84 102.67,199.29 103.60,200.79 104.53,202.34 105.46,203.93 106.39,205.57 107.32,207.24 108.26,208.95 109.19,210.68 110.12,212.44 111.05,214.23 111.98,216.03 112.91,217.84 113.84,219.67 114.77,221.50 115.70,223.34 116.63,225.18 117.56,227.01 118.49,228.83 119.42,230.65 120.35,232.45 121.28,234.24 122.21,236.01 123.14,237.76 124.07,239.48 125.00,241.18 125.93,242.86 126.86,244.50 127.79,246.11 128.72,247.69 129.65,249.24 130.58,250.75 131.51,252.21 132.44,253.64 133.37,255.03 134.30,256.36 135.23,257.66 136.16,258.91 137.09,260.11 138.02,261.27 138.95,262.38 139.88,263.45 140.81,264.47 141.74,265.46 142.67,266.41 143.60,267.32 144.53,268.21 145.46,269.05 146.39,269.87 147.32,270.66 148.25,271.41 149.18,272.14 150.11,272.85 151.04,273.52 151.97,274.17 152.90,274.79 153.83,275.38 154.77,275.95 155.70,276.49 156.63,277.01 157.56,277.50 158.49,277.96 159.42,278.40 160.35,278.82 161.28,279.21 162.21,279.58 163.14,279.93 164.07,280.25 165.00,280.56 165.93,280.85 166.86,281.13 167.79,281.38 168.72,281.63 169.65,281.86 170.58,282.08 171.51,282.28 172.44,282.48 173.37,282.67 174.30,282.85 175.23,283.03 176.16,283.21 177.09,283.39 178.02,283.56 178.95,283.74 179.88,283.92 180.81,284.08 181.74,284.24 182.67,284.39 183.60,284.53 184.53,284.66 185.46,284.78 186.39,284.88 187.32,284.97 188.25,285.06 189.18,285.13 190.11,285.20 191.04,285.26 191.97,285.31 192.90,285.35 193.83,285.38 194.76,285.41 195.69,285.43 196.62,285.45 197.55,285.47 198.48,285.49 199.41,285.51 200.34,285.52 201.28,285.54 202.21,285.55 203.14,285.57 204.07,285.59 205.00,285.60 205.93,285.62 206.86,285.64 207.79,285.65 208.72,285.67 209.65,285.68 210.58,285.70 211.51,285.71 212.44,285.72 213.37,285.73 214.30,285.74 215.23,285.75 216.16,285.76 217.09,285.77 218.02,285.78 218.95,285.79 219.88,285.79 220.81,285.80 221.74,285.81 222.67,285.81 223.60,285.82" fill="none" stroke="#f97b7b" stroke-width="1.15"/>
<polyline points="85.00,184.77 85.93,184.84 86.86,184.92 87.79,185.02 88.72,185.13 89.65,185.27 90.58,185.43 91.51,185.61 92.44,185.82 93.37,186.06 94.30,186.33 95.23,186.63 96.16,186.95 97.09,187.31 98.02,187.70 98.95,188.12 99.88,188.57 100.81,189.05 101.74,189.57 102.67,190.12 103.60,190.69 104.53,191.30 105.46,191.93 106.39,192.59 107.32,193.27 108.26,193.98 109.19,194.71 110.12,195.47 111.05,196.26 111.98,197.10 112.91,197.98 113.84,198.92 114.77,199.91 115.70,200.97 116.63,202.08 117.56,203.25 118.49,204.48 119.42,205.76 120.35,207.09 121.28,208.46 122.21,209.88 123.14,211.35 124.07,212.85 125.00,214.40 125.93,215.98 126.86,217.60 127.79,219.24 128.72,220.91 129.65,222.60 130.58,224.31 131.51,226.03 132.44,227.76 133.37,229.49 134.30,231.22 135.23,232.95 136.16,234.67 137.09,236.37 138.02,238.06 138.95,239.73 139.88,241.37 140.81,242.99 141.74,244.58 142.67,246.14 143.60,247.68 144.53,249.18 145.46,250.67 146.39,252.13 147.32,253.56 148.25,254.97 149.18,256.36 150.11,257.71 151.04,259.04 151.97,260.33 152.90,261.59 153.83,262.81 154.77,263.99 155.70,265.13 156.63,266.23 157.56,267.29 158.49,268.30 159.42,269.26 160.35,270.18 161.28,271.06 162.21,271.90 163.14,272.69 164.07,273.45 165.00,274.16 165.93,274.84 166.86,275.48 167.79,276.08 168.72,276.65 169.65,277.18 170.58,277.68 171.51,278.15 172.44,278.59 173.37,279.00 174.30,279.38 175.23,279.74 176.16,280.08 177.09,280.39 178.02,280.69 178.95,280.96 179.88,281.22 180.81,281.46 181.74,281.69 182.67,281.91 183.60,282.11 184.53,282.30 185.46,282.48 186.39,282.64 187.32,282.79 188.25,282.94 189.18,283.06 190.11,283.18 191.04,283.29 191.97,283.39 192.90,283.48 193.83,283.57 194.76,283.65 195.69,283.73 196.62,283.80 197.55,283.86 198.48,283.91 199.41,283.96 200.34,284.00 201.28,284.04 202.21,284.08 203.14,284.11 204.07,284.14 205.00,284.17 205.93,284.19 206.86,284.21 207.79,284.23 208.72,284.25 209.65,284.27 210.58,284.29 211.51,284.32 212.44,284.34 213.37,284.36 214.30,284.38 215.23,284.41 216.16,284.43 217.09,284.46 218.02,284.48 218.95,284.50 219.88,284.52 220.81,284.53 221.74,284.55 222.67,284.55 223.60,284.56" fill="none" stroke="#4391f2" stroke-width="1.15"/>
<line x1="119.20" y1="200.00" x2="119.20" y2="210.60" stroke="#8ab8f5" stroke-width="0.7" />
<line x1="118.10" y1="200.00" x2="120.30" y2="200.00" stroke="#8ab8f5" stroke-width="0.7" />
<line x1="118.10" y1="210.60" x2="120.30" y2="210.60" stroke="#8ab8f5" stroke-width="0.7" />
<line x1="137.00" y1="231.40" x2="137.00" y2="245.40" stroke="#8ab8f5" stroke-width="0.7" />
<line x1="135.90" y1="231.40" x2="138.10" y2="231.40" stroke="#8ab8f5" stroke-width="0.7" />
<line x1="135.90" y1="245.40" x2="138.10" y2="245.40" stroke="#8ab8f5" stroke-width="0.7" />
<line x1="154.10" y1="259.50" x2="154.10" y2="267.50" stroke="#8ab8f5" stroke-width="0.7" />
<line x1="153.00" y1="259.50" x2="155.20" y2="259.50" stroke="#8ab8f5" stroke-width="0.7" />
<line x1="153.00" y1="267.50" x2="155.20" y2="267.50" stroke="#8ab8f5" stroke-width="0.7" />
<line x1="188.90" y1="274.20" x2="188.90" y2="281.20" stroke="#8ab8f5" stroke-width="0.7" />
<line x1="187.80" y1="274.20" x2="190.00" y2="274.20" stroke="#8ab8f5" stroke-width="0.7" />
<line x1="187.80" y1="281.20" x2="190.00" y2="281.20" stroke="#8ab8f5" stroke-width="0.7" />
<line x1="223.60" y1="281.30" x2="223.60" y2="285.30" stroke="#8ab8f5" stroke-width="0.7" />
<line x1="222.50" y1="281.30" x2="224.70" y2="281.30" stroke="#8ab8f5" stroke-width="0.7" />
<line x1="222.50" y1="285.30" x2="224.70" y2="285.30" stroke="#8ab8f5" stroke-width="0.7" />
<line x1="119.20" y1="200.00" x2="119.20" y2="257.00" stroke="#f9b0b0" stroke-width="0.7" />
<line x1="118.10" y1="200.00" x2="120.30" y2="200.00" stroke="#f9b0b0" stroke-width="0.7" />
<line x1="118.10" y1="257.00" x2="120.30" y2="257.00" stroke="#f9b0b0" stroke-width="0.7" />
<line x1="154.10" y1="270.50" x2="154.10" y2="281.50" stroke="#f9b0b0" stroke-width="0.7" />
<line x1="153.00" y1="270.50" x2="155.20" y2="270.50" stroke="#f9b0b0" stroke-width="0.7" />
<line x1="153.00" y1="281.50" x2="155.20" y2="281.50" stroke="#f9b0b0" stroke-width="0.7" />
<line x1="223.60" y1="279.00" x2="223.60" y2="287.00" stroke="#f9b0b0" stroke-width="0.7" />
<line x1="222.50" y1="279.00" x2="224.70" y2="279.00" stroke="#f9b0b0" stroke-width="0.7" />
<line x1="222.50" y1="287.00" x2="224.70" y2="287.00" stroke="#f9b0b0" stroke-width="0.7" />
<line x1="119.30" y1="246.00" x2="119.30" y2="258.00" stroke="#b5f5b5" stroke-width="0.7" />
<line x1="118.20" y1="246.00" x2="120.40" y2="246.00" stroke="#b5f5b5" stroke-width="0.7" />
<line x1="118.20" y1="258.00" x2="120.40" y2="258.00" stroke="#b5f5b5" stroke-width="0.7" />
<line x1="154.10" y1="268.00" x2="154.10" y2="276.00" stroke="#b5f5b5" stroke-width="0.7" />
<line x1="153.00" y1="268.00" x2="155.20" y2="268.00" stroke="#b5f5b5" stroke-width="0.7" />
<line x1="153.00" y1="276.00" x2="155.20" y2="276.00" stroke="#b5f5b5" stroke-width="0.7" />
<polygon points="117.30,232.40 121.10,232.40 119.20,229.10" fill="#f97b7b"/>
<polygon points="152.20,276.90 156.00,276.90 154.10,273.60" fill="#f97b7b"/>
<polygon points="221.70,284.40 225.50,284.40 223.60,281.10" fill="#f97b7b"/>
<polygon points="91.30,194.10 95.10,194.10 93.20,197.40" fill="#97f59a"/>
<polygon points="100.60,211.00 104.40,211.00 102.50,214.30" fill="#97f59a"/>
<rect x="117.80" y="250.50" width="3" height="3" fill="#97f59a"/>
<rect x="135.50" y="266.70" width="3" height="3" fill="#97f59a"/>
<rect x="152.60" y="270.50" width="3" height="3" fill="#97f59a"/>
<circle cx="85.20" cy="183.00" r="1.6" fill="#4391f2" />
<circle cx="93.50" cy="186.40" r="1.6" fill="#4391f2" />
<circle cx="102.50" cy="190.50" r="1.6" fill="#4391f2" />
<circle cx="102.50" cy="193.00" r="1.6" fill="#4391f2" />
<circle cx="119.20" cy="205.60" r="1.6" fill="#4391f2" />
<circle cx="137.00" cy="238.40" r="1.6" fill="#4391f2" />
<circle cx="154.10" cy="263.50" r="1.6" fill="#4391f2" />
<circle cx="188.90" cy="277.70" r="1.6" fill="#4391f2" />
<circle cx="223.60" cy="283.30" r="1.6" fill="#4391f2" />
<line x1="85.20" y1="182.00" x2="85.20" y2="289.50" stroke="#2a2a2a" stroke-width="1.5" />
<line x1="84.50" y1="288.80" x2="223.60" y2="288.80" stroke="#2a2a2a" stroke-width="1.5" />
<line x1="82.00" y1="288.80" x2="85.20" y2="288.80" stroke="#333" stroke-width="1.2" />
<text x="79.70" y="291.90" font-size="6.7" font-weight="bold" text-anchor="end" fill="#000" stroke="#000" stroke-width="0.2" textLength="3.75" lengthAdjust="spacingAndGlyphs"  >0</text>
<line x1="82.00" y1="267.64" x2="85.20" y2="267.64" stroke="#333" stroke-width="1.2" />
<text x="79.70" y="270.74" font-size="6.7" font-weight="bold" text-anchor="end" fill="#000" stroke="#000" stroke-width="0.2" textLength="7.5" lengthAdjust="spacingAndGlyphs"  >20</text>
<line x1="82.00" y1="246.48" x2="85.20" y2="246.48" stroke="#333" stroke-width="1.2" />
<text x="79.70" y="249.58" font-size="6.7" font-weight="bold" text-anchor="end" fill="#000" stroke="#000" stroke-width="0.2" textLength="7.5" lengthAdjust="spacingAndGlyphs"  >40</text>
<line x1="82.00" y1="225.32" x2="85.20" y2="225.32" stroke="#333" stroke-width="1.2" />
<text x="79.70" y="228.42" font-size="6.7" font-weight="bold" text-anchor="end" fill="#000" stroke="#000" stroke-width="0.2" textLength="7.5" lengthAdjust="spacingAndGlyphs"  >60</text>
<line x1="82.00" y1="204.16" x2="85.20" y2="204.16" stroke="#333" stroke-width="1.2" />
<text x="79.70" y="207.26" font-size="6.7" font-weight="bold" text-anchor="end" fill="#000" stroke="#000" stroke-width="0.2" textLength="7.5" lengthAdjust="spacingAndGlyphs"  >80</text>
<line x1="82.00" y1="183.00" x2="85.20" y2="183.00" stroke="#333" stroke-width="1.2" />
<text x="79.70" y="186.10" font-size="6.7" font-weight="bold" text-anchor="end" fill="#000" stroke="#000" stroke-width="0.2" textLength="11.25" lengthAdjust="spacingAndGlyphs"  >100</text>
<line x1="85.20" y1="288.80" x2="85.20" y2="292.00" stroke="#333" stroke-width="1.2" />
<text x="85.20" y="302.20" font-size="6.6" font-weight="bold" text-anchor="middle" fill="#000" stroke="#000" stroke-width="0.2" textLength="3.75" lengthAdjust="spacingAndGlyphs"  >0</text>
<line x1="119.80" y1="288.80" x2="119.80" y2="292.00" stroke="#333" stroke-width="1.2" />
<text x="119.80" y="302.20" font-size="6.6" font-weight="bold" text-anchor="middle" fill="#000" stroke="#000" stroke-width="0.2" textLength="7.5" lengthAdjust="spacingAndGlyphs"  >10</text>
<line x1="154.20" y1="288.80" x2="154.20" y2="292.00" stroke="#333" stroke-width="1.2" />
<text x="154.20" y="302.20" font-size="6.6" font-weight="bold" text-anchor="middle" fill="#000" stroke="#000" stroke-width="0.2" textLength="7.5" lengthAdjust="spacingAndGlyphs"  >20</text>
<line x1="188.90" y1="288.80" x2="188.90" y2="292.00" stroke="#333" stroke-width="1.2" />
<text x="188.90" y="302.20" font-size="6.6" font-weight="bold" text-anchor="middle" fill="#000" stroke="#000" stroke-width="0.2" textLength="7.5" lengthAdjust="spacingAndGlyphs"  >30</text>
<line x1="223.40" y1="288.80" x2="223.40" y2="292.00" stroke="#333" stroke-width="1.2" />
<text x="223.40" y="302.20" font-size="6.6" font-weight="bold" text-anchor="middle" fill="#000" stroke="#000" stroke-width="0.2" textLength="7.5" lengthAdjust="spacingAndGlyphs"  >40</text>
<line x1="177.50" y1="194.10" x2="188.00" y2="194.10" stroke="#4391f2" stroke-width="1.1" />
<circle cx="182.70" cy="194.10" r="1.4400000000000002" fill="#4391f2" />
<text x="193.80" y="196.50" font-size="7.0" font-weight="normal" text-anchor="start" fill="#222"  textLength="19" lengthAdjust="spacingAndGlyphs"  >control</text>
<line x1="177.50" y1="203.65" x2="188.00" y2="203.65" stroke="#f97b7b" stroke-width="1.1" />
<polygon points="180.80,205.05 184.60,205.05 182.70,201.75" fill="#f97b7b"/>
<text x="193.80" y="206.05" font-size="7.0" font-weight="normal" text-anchor="start" fill="#222"  textLength="11.2" lengthAdjust="spacingAndGlyphs"  >tg/0</text>
<line x1="177.50" y1="213.20" x2="188.00" y2="213.20" stroke="#97f59a" stroke-width="1.1" />
<circle cx="182.70" cy="213.20" r="1.4400000000000002" fill="#97f59a" />
<text x="193.80" y="215.60" font-size="7.0" font-weight="normal" text-anchor="start" fill="#222"  textLength="14" lengthAdjust="spacingAndGlyphs"  >tg/tg</text>
<text x="53.00" y="234.50" font-size="7.9" font-weight="bold" text-anchor="middle" fill="#000" stroke="#000" stroke-width="0.05" textLength="47" lengthAdjust="spacingAndGlyphs" transform="rotate(-90 53.00 234.50)" >relative rate</text>
<text x="63.50" y="233.70" font-size="7.9" font-weight="bold" text-anchor="middle" fill="#000" stroke="#000" stroke-width="0.05" textLength="104.5" lengthAdjust="spacingAndGlyphs" transform="rotate(-90 63.50 233.70)" >oligomycin-sens. respiration</text>
<text x="154.40" y="315.40" font-size="7.6" font-weight="bold" text-anchor="middle" fill="#000" stroke="#000" stroke-width="0.05" textLength="54.8" lengthAdjust="spacingAndGlyphs"  >oligomycin (nM)</text>
<polyline points="361.20,187.13 361.90,187.36 362.59,187.59 363.29,187.85 363.99,188.11 364.69,188.39 365.38,188.68 366.08,188.99 366.78,189.30 367.48,189.64 368.17,189.98 368.87,190.34 369.57,190.72 370.27,191.10 370.96,191.50 371.66,191.92 372.36,192.34 373.06,192.79 373.75,193.24 374.45,193.71 375.15,194.19 375.85,194.69 376.54,195.20 377.24,195.72 377.94,196.26 378.64,196.81 379.33,197.37 380.03,197.95 380.73,198.54 381.43,199.15 382.12,199.77 382.82,200.40 383.52,201.05 384.22,201.71 384.91,202.39 385.61,203.08 386.31,203.78 387.01,204.50 387.70,205.23 388.40,205.97 389.10,206.73 389.80,207.50 390.49,208.29 391.19,209.09 391.89,209.90 392.59,210.73 393.28,211.57 393.98,212.43 394.68,213.30 395.38,214.18 396.07,215.08 396.77,216.00 397.47,216.93 398.17,217.88 398.86,218.85 399.56,219.84 400.26,220.85 400.96,221.88 401.65,222.93 402.35,224.01 403.05,225.11 403.75,226.24 404.44,227.40 405.14,228.58 405.84,229.79 406.54,231.03 407.23,232.31 407.93,233.61 408.63,234.95 409.33,236.32 410.02,237.73 410.72,239.17 411.42,240.65 412.12,242.17 412.81,243.72 413.51,245.31 414.21,246.93 414.91,248.57 415.60,250.22 416.30,251.87 417.00,253.52 417.70,255.16 418.39,256.79 419.09,258.38 419.79,259.94 420.49,261.47 421.18,262.94 421.88,264.36 422.58,265.72 423.28,267.02 423.97,268.27 424.67,269.47 425.37,270.61 426.07,271.69 426.76,272.72 427.46,273.69 428.16,274.61 428.86,275.48 429.55,276.29 430.25,277.05 430.95,277.76 431.65,278.41 432.34,279.01 433.04,279.56 433.74,280.06 434.44,280.53 435.13,280.95 435.83,281.34 436.53,281.71 437.23,282.04 437.92,282.36 438.62,282.65 439.32,282.93 440.02,283.21 440.71,283.47 441.41,283.73 442.11,283.98 442.81,284.23 443.50,284.47 444.20,284.70 444.90,284.92 445.60,285.14 446.29,285.35 446.99,285.56 447.69,285.76 448.39,285.96 449.08,286.14 449.78,286.33 450.48,286.50 451.18,286.67 451.87,286.84 452.57,287.00 453.27,287.16 453.97,287.31 454.66,287.45 455.36,287.59 456.06,287.72 456.76,287.85 457.45,287.98 458.15,288.10 458.85,288.21 459.55,288.33 460.24,288.43 460.94,288.54 461.64,288.63 462.34,288.73 463.03,288.82 463.73,288.90 464.43,288.99 465.13,289.07 465.82,289.14 466.52,289.21 467.22,289.28 467.92,289.34 468.61,289.41 469.31,289.46 470.01,289.52 470.71,289.57 471.40,289.62 472.10,289.67 472.80,289.71 473.50,289.75 474.19,289.79 474.89,289.83 475.59,289.86 476.29,289.89 476.98,289.92 477.68,289.95 478.38,289.98 479.08,290.00 479.77,290.02 480.47,290.04 481.17,290.06 481.87,290.08 482.56,290.09 483.26,290.11 483.96,290.12 484.66,290.13 485.35,290.15 486.05,290.16 486.75,290.17 487.45,290.17 488.14,290.18 488.84,290.19 489.54,290.20 490.24,290.20 490.93,290.21 491.63,290.22 492.33,290.22 493.03,290.23 493.72,290.24 494.42,290.24 495.12,290.25 495.82,290.26 496.51,290.27 497.21,290.27 497.91,290.28 498.61,290.29 499.30,290.30 500.00,290.32" fill="none" stroke="#97f59a" stroke-width="1.15"/>
<polyline points="361.10,186.60 362.03,186.68 362.96,186.83 363.90,187.06 364.83,187.37 365.76,187.77 366.69,188.25 367.63,188.81 368.56,189.44 369.49,190.14 370.42,190.88 371.35,191.68 372.29,192.52 373.22,193.41 374.15,194.34 375.08,195.31 376.02,196.33 376.95,197.39 377.88,198.50 378.81,199.65 379.74,200.84 380.68,202.08 381.61,203.35 382.54,204.65 383.47,205.99 384.41,207.36 385.34,208.77 386.27,210.21 387.20,211.68 388.13,213.18 389.07,214.72 390.00,216.29 390.93,217.90 391.86,219.53 392.80,221.19 393.73,222.86 394.66,224.56 395.59,226.27 396.52,227.99 397.46,229.72 398.39,231.44 399.32,233.18 400.25,234.91 401.19,236.63 402.12,238.36 403.05,240.07 403.98,241.78 404.91,243.47 405.85,245.15 406.78,246.79 407.71,248.42 408.64,250.01 409.58,251.56 410.51,253.09 411.44,254.58 412.37,256.03 413.30,257.45 414.24,258.83 415.17,260.18 416.10,261.48 417.03,262.75 417.97,263.98 418.90,265.17 419.83,266.33 420.76,267.44 421.69,268.52 422.63,269.55 423.56,270.55 424.49,271.51 425.42,272.42 426.36,273.30 427.29,274.14 428.22,274.95 429.15,275.71 430.08,276.44 431.02,277.14 431.95,277.79 432.88,278.42 433.81,279.01 434.74,279.57 435.68,280.10 436.61,280.60 437.54,281.08 438.47,281.53 439.41,281.95 440.34,282.35 441.27,282.72 442.20,283.08 443.13,283.41 444.07,283.73 445.00,284.02 445.93,284.30 446.86,284.56 447.80,284.81 448.73,285.04 449.66,285.27 450.59,285.48 451.52,285.67 452.46,285.86 453.39,286.04 454.32,286.20 455.25,286.36 456.19,286.50 457.12,286.64 458.05,286.78 458.98,286.92 459.91,287.05 460.85,287.18 461.78,287.30 462.71,287.42 463.64,287.52 464.58,287.62 465.51,287.72 466.44,287.80 467.37,287.88 468.30,287.95 469.24,288.01 470.17,288.07 471.10,288.12 472.03,288.17 472.97,288.21 473.90,288.25 474.83,288.28 475.76,288.31 476.69,288.34 477.63,288.37 478.56,288.39 479.49,288.41 480.42,288.43 481.36,288.45 482.29,288.46 483.22,288.48 484.15,288.49 485.08,288.50 486.02,288.51 486.95,288.52 487.88,288.52 488.81,288.53 489.75,288.53 490.68,288.54 491.61,288.54 492.54,288.54 493.47,288.54 494.41,288.54 495.34,288.54 496.27,288.55 497.20,288.55 498.14,288.55 499.07,288.55 500.00,288.55" fill="none" stroke="#f97b7b" stroke-width="1.15"/>
<polyline points="361.10,185.41 362.03,185.47 362.96,185.54 363.90,185.62 364.83,185.71 365.76,185.82 366.69,185.95 367.63,186.09 368.56,186.24 369.49,186.41 370.42,186.60 371.35,186.80 372.29,187.02 373.22,187.25 374.15,187.50 375.08,187.77 376.02,188.05 376.95,188.35 377.88,188.66 378.81,189.00 379.74,189.35 380.68,189.71 381.61,190.10 382.54,190.50 383.47,190.92 384.41,191.35 385.34,191.81 386.27,192.28 387.20,192.77 388.13,193.28 389.07,193.83 390.00,194.40 390.93,195.00 391.86,195.63 392.80,196.29 393.73,196.98 394.66,197.69 395.59,198.43 396.52,199.18 397.46,199.96 398.39,200.75 399.32,201.55 400.25,202.36 401.19,203.18 402.12,204.01 403.05,204.86 403.98,205.74 404.91,206.64 405.85,207.59 406.78,208.57 407.71,209.61 408.64,210.68 409.58,211.79 410.51,212.94 411.44,214.12 412.37,215.32 413.30,216.56 414.24,217.81 415.17,219.08 416.10,220.37 417.03,221.67 417.97,222.99 418.90,224.32 419.83,225.66 420.76,227.01 421.69,228.36 422.63,229.72 423.56,231.08 424.49,232.44 425.42,233.80 426.36,235.15 427.29,236.49 428.22,237.83 429.15,239.16 430.08,240.48 431.02,241.79 431.95,243.09 432.88,244.38 433.81,245.66 434.74,246.93 435.68,248.19 436.61,249.43 437.54,250.66 438.47,251.88 439.41,253.07 440.34,254.26 441.27,255.42 442.20,256.56 443.13,257.69 444.07,258.79 445.00,259.86 445.93,260.92 446.86,261.95 447.80,262.95 448.73,263.93 449.66,264.89 450.59,265.83 451.52,266.74 452.46,267.63 453.39,268.51 454.32,269.36 455.25,270.19 456.19,271.00 457.12,271.79 458.05,272.56 458.98,273.31 459.91,274.03 460.85,274.73 461.78,275.41 462.71,276.07 463.64,276.71 464.58,277.33 465.51,277.93 466.44,278.51 467.37,279.07 468.30,279.61 469.24,280.14 470.17,280.65 471.10,281.14 472.03,281.61 472.97,282.07 473.90,282.50 474.83,282.92 475.76,283.32 476.69,283.71 477.63,284.07 478.56,284.42 479.49,284.75 480.42,285.07 481.36,285.37 482.29,285.66 483.22,285.93 484.15,286.20 485.08,286.45 486.02,286.69 486.95,286.92 487.88,287.14 488.81,287.35 489.75,287.55 490.68,287.73 491.61,287.91 492.54,288.08 493.47,288.24 494.41,288.39 495.34,288.53 496.27,288.66 497.20,288.78 498.14,288.90 499.07,289.00 500.00,289.10" fill="none" stroke="#4391f2" stroke-width="1.15"/>
<line x1="412.60" y1="212.50" x2="412.60" y2="215.50" stroke="#8ab8f5" stroke-width="0.7" />
<line x1="411.50" y1="212.50" x2="413.70" y2="212.50" stroke="#8ab8f5" stroke-width="0.7" />
<line x1="411.50" y1="215.50" x2="413.70" y2="215.50" stroke="#8ab8f5" stroke-width="0.7" />
<line x1="430.30" y1="236.50" x2="430.30" y2="244.50" stroke="#8ab8f5" stroke-width="0.7" />
<line x1="429.20" y1="236.50" x2="431.40" y2="236.50" stroke="#8ab8f5" stroke-width="0.7" />
<line x1="429.20" y1="244.50" x2="431.40" y2="244.50" stroke="#8ab8f5" stroke-width="0.7" />
<line x1="465.20" y1="273.40" x2="465.20" y2="281.40" stroke="#8ab8f5" stroke-width="0.7" />
<line x1="464.10" y1="273.40" x2="466.30" y2="273.40" stroke="#8ab8f5" stroke-width="0.7" />
<line x1="464.10" y1="281.40" x2="466.30" y2="281.40" stroke="#8ab8f5" stroke-width="0.7" />
<line x1="395.80" y1="210.00" x2="395.80" y2="214.00" stroke="#b5f5b5" stroke-width="0.7" />
<line x1="394.70" y1="210.00" x2="396.90" y2="210.00" stroke="#b5f5b5" stroke-width="0.7" />
<line x1="394.70" y1="214.00" x2="396.90" y2="214.00" stroke="#b5f5b5" stroke-width="0.7" />
<line x1="412.40" y1="238.10" x2="412.40" y2="244.10" stroke="#b5f5b5" stroke-width="0.7" />
<line x1="411.30" y1="238.10" x2="413.50" y2="238.10" stroke="#b5f5b5" stroke-width="0.7" />
<line x1="411.30" y1="244.10" x2="413.50" y2="244.10" stroke="#b5f5b5" stroke-width="0.7" />
<line x1="429.80" y1="279.00" x2="429.80" y2="283.00" stroke="#b5f5b5" stroke-width="0.7" />
<line x1="428.70" y1="279.00" x2="430.90" y2="279.00" stroke="#b5f5b5" stroke-width="0.7" />
<line x1="428.70" y1="283.00" x2="430.90" y2="283.00" stroke="#b5f5b5" stroke-width="0.7" />
<line x1="465.20" y1="286.00" x2="465.20" y2="288.00" stroke="#b5f5b5" stroke-width="0.7" />
<line x1="464.10" y1="286.00" x2="466.30" y2="286.00" stroke="#b5f5b5" stroke-width="0.7" />
<line x1="464.10" y1="288.00" x2="466.30" y2="288.00" stroke="#b5f5b5" stroke-width="0.7" />
<line x1="395.70" y1="222.50" x2="395.70" y2="228.50" stroke="#f9b0b0" stroke-width="0.7" />
<line x1="394.60" y1="222.50" x2="396.80" y2="222.50" stroke="#f9b0b0" stroke-width="0.7" />
<line x1="394.60" y1="228.50" x2="396.80" y2="228.50" stroke="#f9b0b0" stroke-width="0.7" />
<line x1="413.00" y1="252.30" x2="413.00" y2="261.30" stroke="#f9b0b0" stroke-width="0.7" />
<line x1="411.90" y1="252.30" x2="414.10" y2="252.30" stroke="#f9b0b0" stroke-width="0.7" />
<line x1="411.90" y1="261.30" x2="414.10" y2="261.30" stroke="#f9b0b0" stroke-width="0.7" />
<line x1="465.20" y1="281.20" x2="465.20" y2="287.20" stroke="#f9b0b0" stroke-width="0.7" />
<line x1="464.10" y1="281.20" x2="466.30" y2="281.20" stroke="#f9b0b0" stroke-width="0.7" />
<line x1="464.10" y1="287.20" x2="466.30" y2="287.20" stroke="#f9b0b0" stroke-width="0.7" />
<polygon points="376.80,203.90 380.60,203.90 378.70,200.60" fill="#f97b7b"/>
<polygon points="393.80,226.90 397.60,226.90 395.70,223.60" fill="#f97b7b"/>
<polygon points="411.10,258.70 414.90,258.70 413.00,255.40" fill="#f97b7b"/>
<polygon points="463.30,285.60 467.10,285.60 465.20,282.30" fill="#f97b7b"/>
<rect x="368.40" y="188.90" width="3" height="3" fill="#97f59a"/>
<rect x="376.50" y="195.10" width="3" height="3" fill="#97f59a"/>
<rect x="394.30" y="210.50" width="3" height="3" fill="#97f59a"/>
<rect x="410.90" y="239.60" width="3" height="3" fill="#97f59a"/>
<rect x="428.30" y="279.50" width="3" height="3" fill="#97f59a"/>
<rect x="463.70" y="286.50" width="3" height="3" fill="#97f59a"/>
<circle cx="361.20" cy="183.80" r="1.6" fill="#4391f2" />
<circle cx="369.90" cy="186.40" r="1.6" fill="#4391f2" />
<circle cx="378.00" cy="190.40" r="1.6" fill="#4391f2" />
<circle cx="395.50" cy="199.00" r="1.6" fill="#4391f2" />
<circle cx="412.60" cy="214.00" r="1.6" fill="#4391f2" />
<circle cx="430.30" cy="240.50" r="1.6" fill="#4391f2" />
<circle cx="465.20" cy="277.40" r="1.6" fill="#4391f2" />
<circle cx="500.00" cy="289.20" r="1.6" fill="#4391f2" />
<line x1="361.10" y1="182.80" x2="361.10" y2="290.60" stroke="#2a2a2a" stroke-width="1.5" />
<line x1="360.40" y1="289.90" x2="500.00" y2="289.90" stroke="#2a2a2a" stroke-width="1.5" />
<line x1="357.90" y1="289.90" x2="361.10" y2="289.90" stroke="#333" stroke-width="1.2" />
<text x="356.00" y="293.00" font-size="6.7" font-weight="bold" text-anchor="end" fill="#000" stroke="#000" stroke-width="0.2" textLength="3.75" lengthAdjust="spacingAndGlyphs"  >0</text>
<line x1="357.90" y1="268.68" x2="361.10" y2="268.68" stroke="#333" stroke-width="1.2" />
<text x="356.00" y="271.78" font-size="6.7" font-weight="bold" text-anchor="end" fill="#000" stroke="#000" stroke-width="0.2" textLength="7.5" lengthAdjust="spacingAndGlyphs"  >20</text>
<line x1="357.90" y1="247.46" x2="361.10" y2="247.46" stroke="#333" stroke-width="1.2" />
<text x="356.00" y="250.56" font-size="6.7" font-weight="bold" text-anchor="end" fill="#000" stroke="#000" stroke-width="0.2" textLength="7.5" lengthAdjust="spacingAndGlyphs"  >40</text>
<line x1="357.90" y1="226.24" x2="361.10" y2="226.24" stroke="#333" stroke-width="1.2" />
<text x="356.00" y="229.34" font-size="6.7" font-weight="bold" text-anchor="end" fill="#000" stroke="#000" stroke-width="0.2" textLength="7.5" lengthAdjust="spacingAndGlyphs"  >60</text>
<line x1="357.90" y1="205.02" x2="361.10" y2="205.02" stroke="#333" stroke-width="1.2" />
<text x="356.00" y="208.12" font-size="6.7" font-weight="bold" text-anchor="end" fill="#000" stroke="#000" stroke-width="0.2" textLength="7.5" lengthAdjust="spacingAndGlyphs"  >80</text>
<line x1="357.90" y1="183.80" x2="361.10" y2="183.80" stroke="#333" stroke-width="1.2" />
<text x="356.00" y="186.90" font-size="6.7" font-weight="bold" text-anchor="end" fill="#000" stroke="#000" stroke-width="0.2" textLength="11.25" lengthAdjust="spacingAndGlyphs"  >100</text>
<line x1="361.10" y1="289.90" x2="361.10" y2="293.10" stroke="#333" stroke-width="1.2" />
<text x="361.10" y="302.20" font-size="6.6" font-weight="bold" text-anchor="middle" fill="#000" stroke="#000" stroke-width="0.2" textLength="3.75" lengthAdjust="spacingAndGlyphs"  >0</text>
<line x1="395.50" y1="289.90" x2="395.50" y2="293.10" stroke="#333" stroke-width="1.2" />
<text x="395.50" y="302.20" font-size="6.6" font-weight="bold" text-anchor="middle" fill="#000" stroke="#000" stroke-width="0.2" textLength="3.75" lengthAdjust="spacingAndGlyphs"  >5</text>
<line x1="430.30" y1="289.90" x2="430.30" y2="293.10" stroke="#333" stroke-width="1.2" />
<text x="430.30" y="302.20" font-size="6.6" font-weight="bold" text-anchor="middle" fill="#000" stroke="#000" stroke-width="0.2" textLength="7.5" lengthAdjust="spacingAndGlyphs"  >10</text>
<line x1="465.10" y1="289.90" x2="465.10" y2="293.10" stroke="#333" stroke-width="1.2" />
<text x="465.10" y="302.20" font-size="6.6" font-weight="bold" text-anchor="middle" fill="#000" stroke="#000" stroke-width="0.2" textLength="7.5" lengthAdjust="spacingAndGlyphs"  >15</text>
<line x1="500.00" y1="289.90" x2="500.00" y2="293.10" stroke="#333" stroke-width="1.2" />
<text x="500.00" y="302.20" font-size="6.6" font-weight="bold" text-anchor="middle" fill="#000" stroke="#000" stroke-width="0.2" textLength="7.5" lengthAdjust="spacingAndGlyphs"  >20</text>
<line x1="456.20" y1="194.40" x2="466.70" y2="194.40" stroke="#4391f2" stroke-width="1.1" />
<circle cx="461.40" cy="194.40" r="1.4400000000000002" fill="#4391f2" />
<text x="472.90" y="196.80" font-size="7.0" font-weight="normal" text-anchor="start" fill="#222"  textLength="20.2" lengthAdjust="spacingAndGlyphs"  >control</text>
<line x1="456.20" y1="203.60" x2="466.70" y2="203.60" stroke="#f97b7b" stroke-width="1.1" />
<polygon points="459.50,205.00 463.30,205.00 461.40,201.70" fill="#f97b7b"/>
<text x="472.90" y="206.00" font-size="7.0" font-weight="normal" text-anchor="start" fill="#222"  textLength="11.7" lengthAdjust="spacingAndGlyphs"  >tg/0</text>
<line x1="456.20" y1="212.80" x2="466.70" y2="212.80" stroke="#97f59a" stroke-width="1.1" />
<circle cx="461.40" cy="212.80" r="1.4400000000000002" fill="#97f59a" />
<text x="472.90" y="215.20" font-size="7.0" font-weight="normal" text-anchor="start" fill="#222"  textLength="14" lengthAdjust="spacingAndGlyphs"  >tg/tg</text>
<text x="328.50" y="234.50" font-size="7.9" font-weight="bold" text-anchor="middle" fill="#000" stroke="#000" stroke-width="0.05" textLength="47" lengthAdjust="spacingAndGlyphs" transform="rotate(-90 328.50 234.50)" >relative rate</text>
<text x="340.00" y="233.70" font-size="7.9" font-weight="bold" text-anchor="middle" fill="#000" stroke="#000" stroke-width="0.05" textLength="104.5" lengthAdjust="spacingAndGlyphs" transform="rotate(-90 340.00 233.70)" >oligomycin-sens. respiration</text>
<text x="430.50" y="315.40" font-size="7.6" font-weight="bold" text-anchor="middle" fill="#000" stroke="#000" stroke-width="0.05" textLength="54.8" lengthAdjust="spacingAndGlyphs"  >oligomycin (nM)</text>
</svg></body></html>
